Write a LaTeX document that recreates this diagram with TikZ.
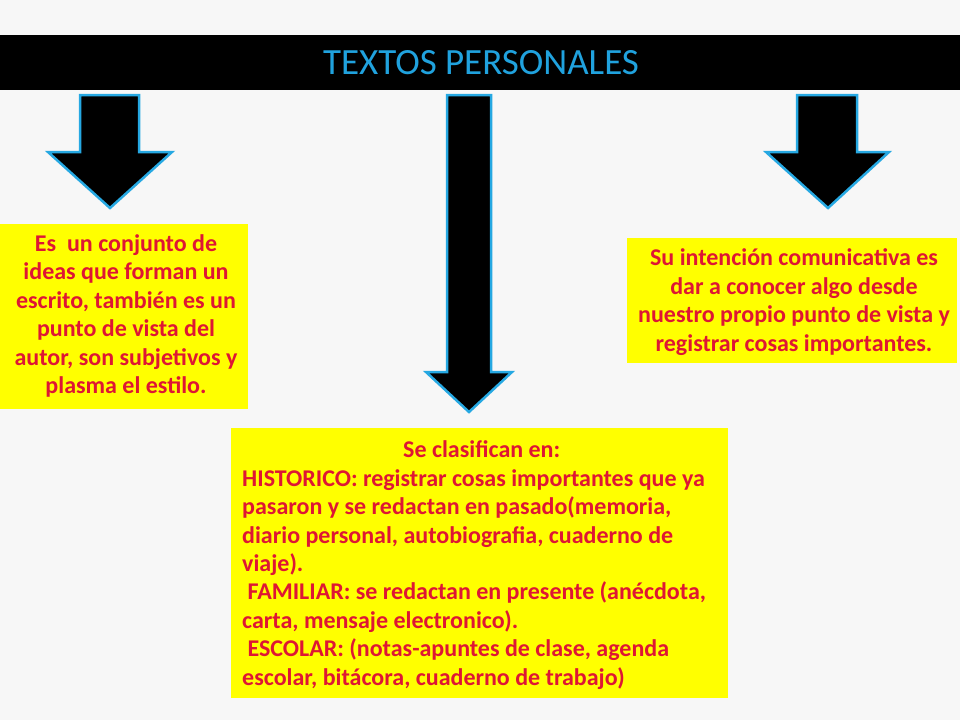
\documentclass[tikz,border=0pt]{standalone}
\usepackage{fontspec}
\setmainfont{Carlito}
\usepackage{tikz}

\definecolor{fondo}{RGB}{247,247,247}
\definecolor{amarillo}{RGB}{255,255,0}
\definecolor{rojo}{RGB}{222,22,52}
\definecolor{celeste}{RGB}{32,162,222}
\definecolor{borde}{RGB}{38,168,226}

\tikzset{
  caja/.style={fill=amarillo, text=rojo, font=\bfseries\fontsize{24}{28.4}\selectfont,
               inner sep=0pt, align=center},
  flecha/.style={fill=black, draw=borde, line width=2.5pt, line join=miter}
}

\begin{document}
\begin{tikzpicture}[x=1pt,y=-1pt]

            \useasboundingbox[fill=fondo] (0,0) rectangle (960,720);

            % barra del titulo
            \fill[black] (0,35) rectangle (960,90);
            \node[text=celeste, font=\fontsize{37}{40}\selectfont] (titulo) at (481,63) {TEXTOS PERSONALES};

            % flechas
            \draw[flecha] (80,95) -- (139,95) -- (139,152) -- (172,152) -- (110,208)
                -- (48,152) -- (80,152) -- cycle;
            \draw[flecha] (447,95) -- (491,95) -- (491,372) -- (512,372) -- (469,412)
                -- (426,372) -- (447,372) -- cycle;
            \draw[flecha] (797,95) -- (857,95) -- (857,152) -- (889,152) -- (828,208)
                -- (766,152) -- (797,152) -- cycle;

            % cajas
            \fill[amarillo] (0,224) rectangle (248,409);
            \node[caja] (definicion) at (126,316)
                {Es\ \ un conjunto de\\ ideas que forman un\\ escrito, también es un\\
                 punto de vista del\\ autor, son subjetivos y\\ plasma el estilo.};

            \fill[amarillo] (627,238) rectangle (957,363);
            \node[caja] (intencion) at (794,302)
                {Su intención comunicativa es\\ dar a conocer algo desde\\
                 nuestro propio punto de vista y\\ registrar cosas importantes.};

            \fill[amarillo] (231,428) rectangle (728,698);
            \node[caja, align=left, anchor=west] (clases) at (242,565)
                {\hspace*{161pt}Se clasifican en:\\
                 HISTORICO: registrar cosas importantes que ya\\
                 pasaron y se redactan en pasado(memoria,\\
                 diario personal, autobiografia, cuaderno de\\
                 viaje).\\
                 \ FAMILIAR: se redactan en presente (anécdota,\\
                 carta, mensaje electronico).\\
                 \ ESCOLAR: (notas-apuntes de clase, agenda\\
                 escolar, bitácora, cuaderno de trabajo)};

\end{tikzpicture}
\end{document}
